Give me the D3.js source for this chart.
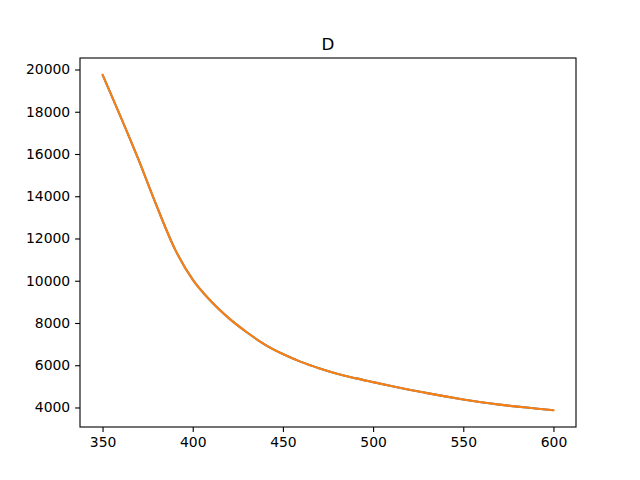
<!DOCTYPE html>
<html>
<head>
<meta charset="utf-8">
<script src="https://cdn.jsdelivr.net/npm/d3@7"></script>
<style>
  body { margin: 0; background: #fff; }
  text { font-family: "DejaVu Sans", sans-serif; }
</style>
</head>
<body>
<svg width="640" height="480"></svg>
<script>
// values
const xs = [350, 360, 370, 380, 390, 400, 410, 420, 430, 440, 450, 460, 470,
            480, 490, 500, 510, 520, 530, 540, 550, 560, 570, 580, 590, 600];
const seriesA = [19750, 17770, 15720, 13540, 11520, 10050, 9040, 8230, 7560, 6980,
                 6530, 6160, 5860, 5600, 5390, 5200, 5015, 4840, 4680, 4525,
                 4380, 4250, 4135, 4040, 3955, 3870];
const seriesB = seriesA.slice(); // second run, drawn on top, same values
const xTicks = [350, 400, 450, 500, 550, 600];
const yTicks = [4000, 6000, 8000, 10000, 12000, 14000, 16000, 18000, 20000];
const title = "D";

const svg = d3.select("svg");
const mLeft = 80, mRight = 576, mTop = 58, mBottom = 427;

// matplotlib style 5% margins
const xPad = (600 - 350) * 0.05;
const x = d3.scaleLinear().domain([350 - xPad, 600 + xPad]).range([mLeft, mRight]);
const yMin = d3.min(seriesA), yMax = d3.max(seriesA);
const yPad = (yMax - yMin) * 0.05;
const y = d3.scaleLinear().domain([yMin - yPad, yMax + yPad]).range([mBottom, mTop]);

const line = d3.line()
  .x((d, i) => x(xs[i]))
  .y(d => y(d))
  .curve(d3.curveMonotoneX);

svg.append("path").datum(seriesA)
  .attr("d", line).attr("fill", "none")
  .attr("stroke", "#1f77b4").attr("stroke-width", 2.08);
svg.append("path").datum(seriesB)
  .attr("d", line).attr("fill", "none")
  .attr("stroke", "#ff7f0e").attr("stroke-width", 2.08)
  .attr("stroke-linecap", "square");

// axes
const xAxis = svg.append("g")
  .attr("transform", "translate(0," + mBottom + ")")
  .call(d3.axisBottom(x).tickValues(xTicks).tickSize(4.9).tickPadding(4.9).tickSizeOuter(0));
const yAxis = svg.append("g")
  .attr("transform", "translate(" + mLeft + ",0)")
  .call(d3.axisLeft(y).tickValues(yTicks).tickSize(4.9).tickPadding(4.9).tickSizeOuter(0).tickFormat(d3.format("d")));

[xAxis, yAxis].forEach(g => {
  g.select(".domain").remove();
  g.selectAll("line").attr("stroke", "#000").attr("stroke-width", 1.1);
  g.selectAll("text").attr("fill", "#000").style("font-size", "13.9px")
    .style("font-family", "DejaVu Sans, sans-serif");
});

svg.append("rect")
  .attr("x", mLeft).attr("y", mTop)
  .attr("width", mRight - mLeft).attr("height", mBottom - mTop)
  .attr("fill", "none").attr("stroke", "#000").attr("stroke-width", 1.1);

svg.append("text")
  .attr("x", (mLeft + mRight) / 2).attr("y", mTop - 8)
  .attr("text-anchor", "middle")
  .style("font-size", "16.7px")
  .text(title);
</script>
</body>
</html>
